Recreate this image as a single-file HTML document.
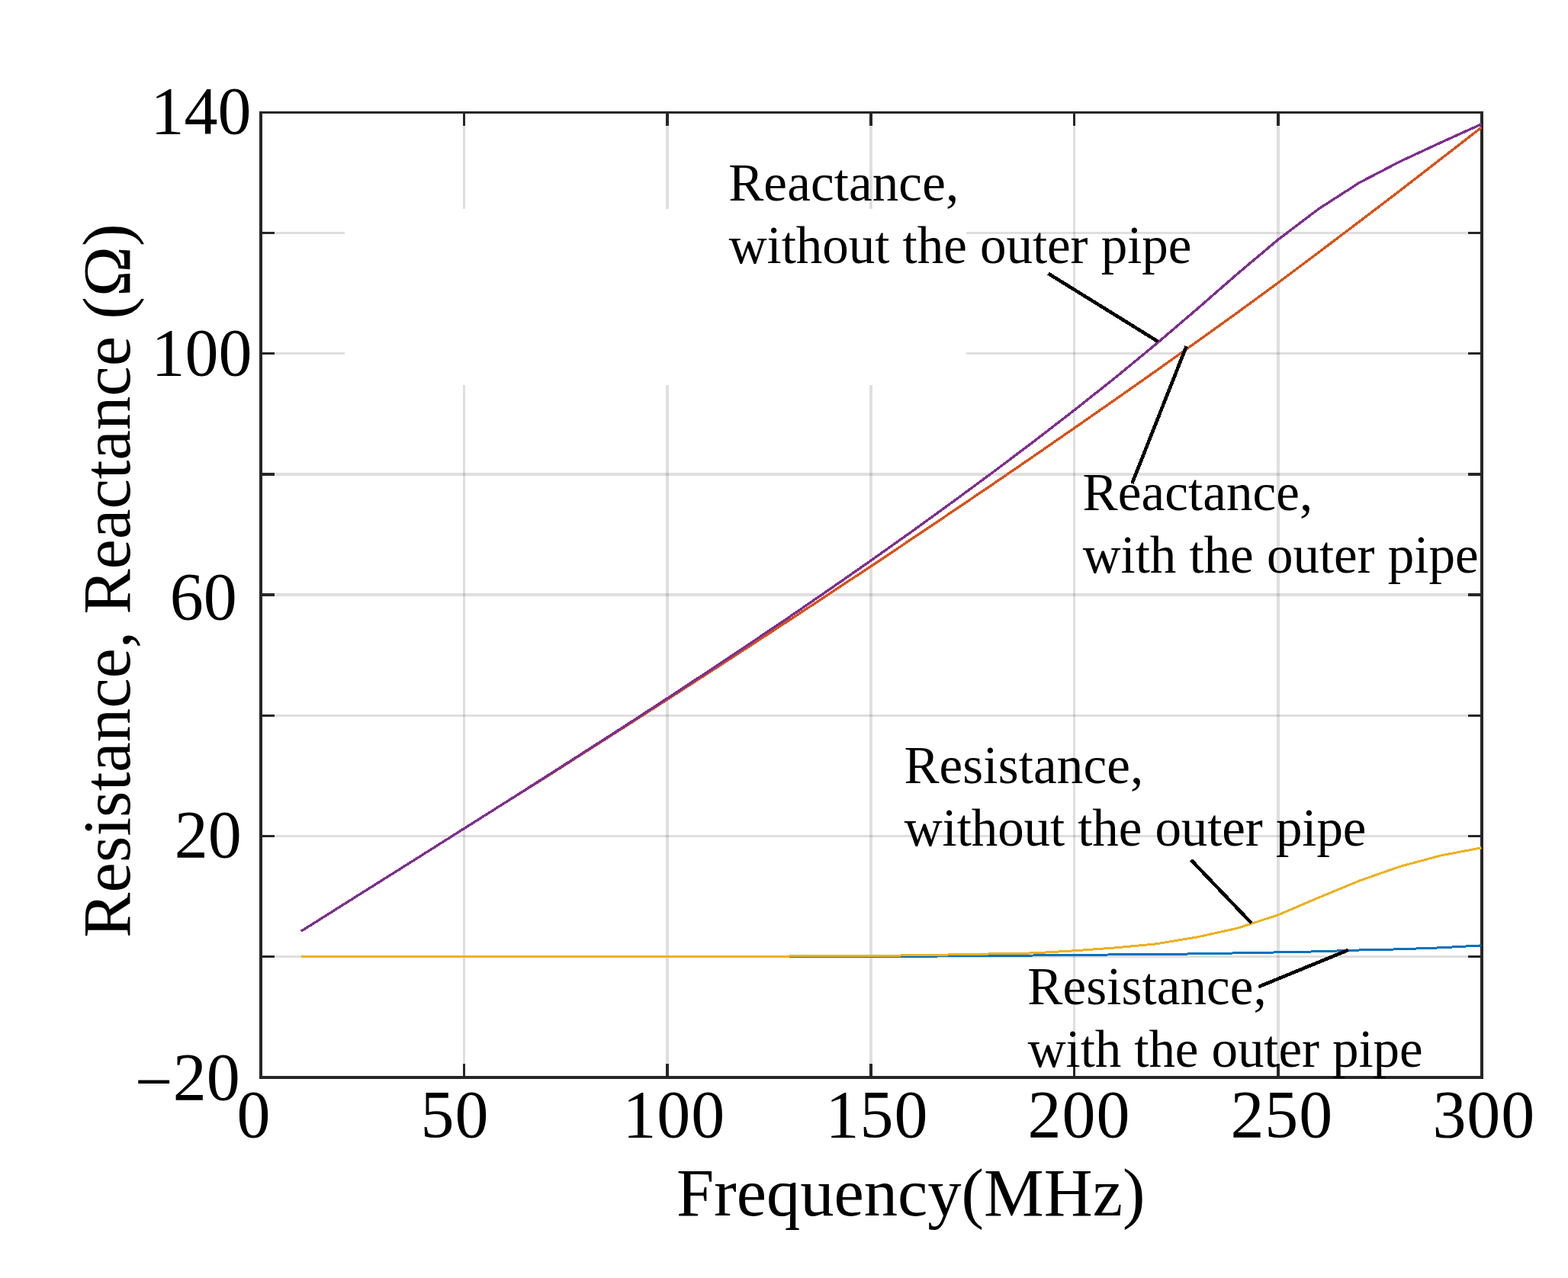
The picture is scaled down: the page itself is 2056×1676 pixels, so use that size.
<!DOCTYPE html>
<html lang="en">
<head>
<meta charset="utf-8">
<title>Resistance and reactance versus frequency</title>
<style>
html,body{margin:0;padding:0;background:#fff;}
body{width:2056px;height:1676px;overflow:hidden;}
svg{display:block;}
text{font-family:"Liberation Serif","Times New Roman",Times,serif;fill:#000;font-kerning:none;white-space:pre;}
.tk{font-size:88px;}
.an{font-size:69.05px;}
.g{fill:#262626;fill-opacity:0.15;}
.ax{fill:#262626;}
.c{fill:none;stroke-linejoin:round;stroke-linecap:butt;shape-rendering:crispEdges;}
.ld{stroke:#000;stroke-width:4.6;fill:none;stroke-linecap:butt;shape-rendering:crispEdges;}
</style>
</head>
<body>
<svg role="img" aria-label="Resistance and reactance versus frequency" width="2056" height="1676" viewBox="0 0 2056 1676">
<rect x="0" y="0" width="2056" height="1676" fill="#ffffff"/>
<g class="g">
<rect x="607" y="166" width="3" height="1228"/>
<rect x="873" y="166" width="4" height="1228"/>
<rect x="1140" y="166" width="4" height="1228"/>
<rect x="1407" y="166" width="3" height="1228"/>
<rect x="1674" y="166" width="4" height="1228"/>
<rect x="361" y="1253" width="1563" height="3"/>
<rect x="361" y="1095" width="1563" height="3"/>
<rect x="361" y="937" width="1563" height="3"/>
<rect x="361" y="778" width="1563" height="4"/>
<rect x="361" y="620" width="1563" height="4"/>
<rect x="361" y="462" width="1563" height="3"/>
<rect x="361" y="304" width="1563" height="3"/>
</g>
<rect x="452" y="274" width="815" height="231" fill="#ffffff"/>
<g class="ax">
<rect x="607" y="1394.9" width="3" height="16.1"/>
<rect x="607" y="149" width="3" height="16.1"/>
<rect x="873" y="1394.9" width="4" height="16.1"/>
<rect x="873" y="149" width="4" height="16.1"/>
<rect x="1140" y="1394.9" width="4" height="16.1"/>
<rect x="1140" y="149" width="4" height="16.1"/>
<rect x="1407" y="1394.9" width="3" height="16.1"/>
<rect x="1407" y="149" width="3" height="16.1"/>
<rect x="1674" y="1394.9" width="4" height="16.1"/>
<rect x="1674" y="149" width="4" height="16.1"/>
<rect x="344" y="1253" width="16.1" height="3"/>
<rect x="1924.9" y="1253" width="16.1" height="3"/>
<rect x="344" y="1095" width="16.1" height="3"/>
<rect x="1924.9" y="1095" width="16.1" height="3"/>
<rect x="344" y="937" width="16.1" height="3"/>
<rect x="1924.9" y="937" width="16.1" height="3"/>
<rect x="344" y="778" width="16.1" height="4"/>
<rect x="1924.9" y="778" width="16.1" height="4"/>
<rect x="344" y="620" width="16.1" height="4"/>
<rect x="1924.9" y="620" width="16.1" height="4"/>
<rect x="344" y="462" width="16.1" height="3"/>
<rect x="1924.9" y="462" width="16.1" height="3"/>
<rect x="344" y="304" width="16.1" height="3"/>
<rect x="1924.9" y="304" width="16.1" height="3"/>
<rect x="340" y="146" width="4" height="1269"/>
<rect x="1941" y="146" width="4" height="1269"/>
<rect x="340" y="146" width="1605" height="3"/>
<rect x="340" y="1411" width="1605" height="4"/>
</g>
<polyline class="c" stroke="#0072BD" stroke-width="3" points="394.9,1254.8 981.9,1254.8 1035.3,1254.7 1088.6,1254.6 1142.0,1254.5 1195.4,1254.2 1248.7,1253.9 1302.1,1253.5 1355.5,1253.0 1408.8,1252.5 1462.2,1251.9 1515.6,1251.4 1568.9,1250.9 1622.3,1249.9 1675.7,1248.9 1729.0,1247.8 1782.4,1246.0 1835.8,1244.8 1889.1,1242.8 1942.5,1239.9"/>
<polyline class="c" stroke="#D95319" stroke-width="3.3" points="394.9,1221.2 448.2,1187.6 501.6,1154.0 555.0,1120.4 608.3,1086.7 661.7,1053.0 715.1,1019.6 768.4,985.6 821.8,951.5 875.2,917.2 928.5,882.7 981.9,848.0 1035.3,813.1 1088.6,778.0 1142.0,742.6 1195.4,706.9 1248.7,671.0 1302.1,634.8 1355.5,598.2 1408.8,561.3 1462.2,524.1 1515.6,486.5 1568.9,448.5 1622.3,410.1 1675.7,371.0 1729.0,331.0 1782.4,290.6 1835.8,249.9 1889.1,208.6 1942.5,167.2"/>
<polyline class="c" stroke="#EDB120" stroke-width="3" points="394.9,1254.8 875.2,1254.7 928.5,1254.5 981.9,1254.3 1035.3,1254.0 1088.6,1253.6 1142.0,1253.3 1195.4,1252.9 1248.7,1251.9 1302.1,1250.9 1355.5,1249.9 1408.8,1246.8 1462.2,1242.9 1515.6,1237.9 1568.9,1229.1 1622.3,1217.3 1675.7,1200.0 1729.0,1177.2 1782.4,1155.1 1835.8,1136.3 1889.1,1122.0 1942.5,1111.8"/>
<polyline class="c" stroke="#7E2F8E" stroke-width="3.3" points="394.9,1221.2 448.2,1187.6 501.6,1154.0 555.0,1120.4 608.3,1086.7 661.7,1053.0 715.1,1019.0 768.4,984.9 821.8,950.5 875.2,915.7 928.5,880.6 981.9,845.0 1035.3,809.0 1088.6,772.3 1142.0,735.1 1195.4,697.2 1248.7,658.6 1302.1,619.2 1355.5,579.0 1408.8,537.8 1462.2,495.4 1515.6,451.4 1568.9,405.9 1622.3,359.3 1675.7,314.4 1729.0,274.0 1782.4,239.6 1835.8,211.8 1889.1,187.0 1942.5,162.8"/>
<g class="ld">
<line x1="1374.5" y1="358.7" x2="1518.4" y2="447.9"/>
<line x1="1555.7" y1="454" x2="1484.4" y2="634"/>
<line x1="1562" y1="1128" x2="1640.8" y2="1210.5"/>
<line x1="1768" y1="1245.8" x2="1650.3" y2="1294.1"/>
</g>
<text class="tk" x="310.50" y="1490.6" letter-spacing="0.95">0</text>
<text class="tk" x="551.55" y="1490.6" letter-spacing="0.95">50</text>
<text class="tk" x="816.40" y="1490.6" letter-spacing="0.95">100</text>
<text class="tk" x="1082.60" y="1490.6" letter-spacing="0.95">150</text>
<text class="tk" x="1347.60" y="1490.6" letter-spacing="0.95">200</text>
<text class="tk" x="1613.40" y="1490.6" letter-spacing="0.95">250</text>
<text class="tk" x="1878.40" y="1490.6" letter-spacing="0.95">300</text>
<text class="tk" x="329.50" y="174.60" text-anchor="end">140</text>
<text class="tk" x="330.50" y="492.40" text-anchor="end">100</text>
<text class="tk" x="310.65" y="811.55" text-anchor="end">60</text>
<text class="tk" x="316.70" y="1124.40" text-anchor="end">20</text>
<text class="tk" x="314.66" y="1441.55" text-anchor="end"><tspan dy="6.3">−</tspan><tspan dy="-6.3">20</tspan></text>
<text x="887.05" y="1594.4" font-size="88.5">Frequency(MHz)</text>
<text transform="translate(170,1229.75) rotate(-90)" font-size="88.8">Resistance, Reactance (Ω)</text>
<text class="an" x="955.2" y="263.0" letter-spacing="0.12">Reactance,</text>
<text class="an" x="955.8" y="345.0" letter-spacing="-0.057">without the outer pipe</text>
<text class="an" x="1419.5" y="669.0" letter-spacing="0.1">Reactance,</text>
<text class="an" x="1419.7" y="751.0" letter-spacing="-0.044">with the outer pipe</text>
<text class="an" x="1185.4" y="1027.0" letter-spacing="0.13">Resistance,</text>
<text class="an" x="1185.8" y="1109.0" letter-spacing="-0.105">without the outer pipe</text>
<text class="an" x="1347.3" y="1317.0" letter-spacing="0.1">Resistance,</text>
<text class="an" x="1347.8" y="1399.0" letter-spacing="-0.1">with the outer pipe</text>
</svg>
</body>
</html>
